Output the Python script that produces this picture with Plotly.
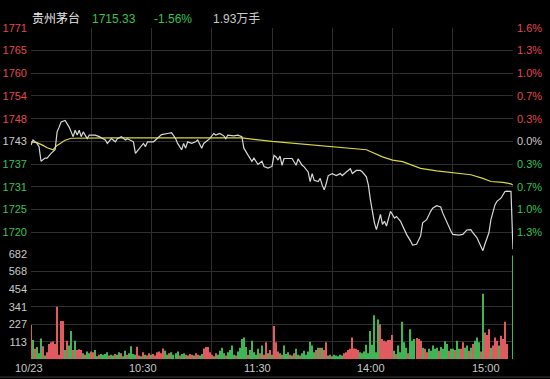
import plotly.graph_objects as go

# ---------------- data ----------------
stock_name = "贵州茅台"
last_price = "1715.33"
change_pct = "-1.56%"
volume_total = "1.93万手"
prev_close = 1742.5
price_step = 5.72          # price per horizontal grid row (~0.33%)

price_minutes = [0, 1, 3, 4, 5, 7, 8, 10, 12, 13, 14, 15, 17, 18, 19, 20, 21, 22, 23, 24,
                 25, 26, 28, 29, 32, 34, 37, 38, 40, 42, 43, 45, 47, 48, 51, 52, 54, 56, 57, 58,
                 61, 63, 65, 68, 70, 72, 73, 75, 76, 77, 78, 80, 82, 83, 85, 86, 89, 91, 92, 94,
                 96, 97, 98, 101, 103, 105, 106, 108, 110, 111, 113, 115, 116, 118, 120, 121, 122, 123, 124, 125,
                 126, 128, 130, 132, 133, 135, 136, 138, 139, 140, 141, 143, 144, 145, 146, 147, 148, 150, 152, 154,
                 155, 157, 159, 160, 162, 164, 165, 167, 168, 169, 170, 171, 172, 173, 174, 175, 176, 177, 178, 179,
                 181, 182, 184, 185, 187, 189, 190, 192, 194, 195, 197, 199, 200, 202, 204, 205, 207, 209, 210, 213,
                 215, 217, 219, 220, 222, 224, 225, 226, 228, 229, 231, 232, 234, 236, 237, 238, 239, 240]
price_values = [1741.6, 1742.85, 1742.0, 1741.2, 1737.5, 1738.3, 1738.3, 1739.5, 1740.4, 1744.9, 1746.1, 1747.4, 1747.8, 1747.0, 1746.1, 1744.9, 1743.7, 1745.3, 1744.1, 1745.3,
                1743.7, 1744.9, 1743.2, 1744.1, 1744.1, 1743.7, 1742.85, 1742.0, 1743.2, 1742.4, 1743.2, 1743.7, 1742.85, 1743.2, 1742.4, 1739.5, 1740.8, 1742.0, 1741.2, 1742.4,
                1742.4, 1743.2, 1744.2, 1744.5, 1744.7, 1743.2, 1742.0, 1740.4, 1742.0, 1740.8, 1742.4, 1742.0, 1742.4, 1742.85, 1740.8, 1742.0, 1743.2, 1744.5, 1744.1, 1744.5,
                1743.9, 1743.2, 1744.1, 1743.9, 1744.1, 1743.7, 1740.8, 1739.1, 1737.5, 1738.3, 1736.7, 1737.5, 1736.2, 1735.8, 1736.2, 1739.0, 1738.6, 1737.8, 1738.8, 1736.5,
                1738.2, 1738.2, 1738.2, 1736.5, 1738.1, 1736.5, 1736.1, 1734.8, 1732.4, 1734.4, 1732.7, 1732.4, 1733.2, 1731.5, 1730.3, 1731.9, 1733.9, 1734.4, 1733.9, 1734.4,
                1733.9, 1734.8, 1735.6, 1734.4, 1735.2, 1735.2, 1734.8, 1733.6, 1731.5, 1727.8, 1724.9, 1722.0, 1720.3, 1722.0, 1724.1, 1721.6, 1722.4, 1721.2, 1723.2, 1724.9,
                1723.2, 1723.6, 1722.4, 1721.2, 1719.1, 1717.4, 1716.4, 1716.6, 1718.7, 1722.0, 1722.8, 1724.9, 1725.7, 1726.3, 1726.0, 1724.5, 1722.0, 1720.0, 1719.1, 1718.9,
                1719.1, 1720.2, 1720.3, 1719.5, 1718.3, 1716.2, 1715.0, 1716.6, 1719.5, 1722.8, 1726.5, 1727.4, 1728.2, 1729.9, 1730.0, 1729.9, 1729.9, 1715.33]

avg_minutes = [0, 3, 6, 8, 11, 13, 17, 20, 40, 80, 105, 120, 136, 152, 167, 175, 180, 185, 194, 202,
               210, 219, 225, 229, 235, 239, 240]
avg_values = [1742.4, 1742.2, 1741.5, 1740.9, 1740.4, 1741.5, 1742.8, 1743.3, 1743.4, 1743.4, 1743.4, 1742.5, 1741.8, 1741.1, 1740.4, 1738.6, 1737.8, 1737.4, 1735.7, 1735.1,
              1734.7, 1734.1, 1733.2, 1732.4, 1732.2, 1731.8, 1731.5]

volumes = [222, 125, 68, 80, 40, 135, 85, 25, 45, 100,
           110, 115, 100, 340, 30, 248, 248, 60, 120, 90,
           184, 60, 120, 60, 65, 60, 40, 30, 50, 40,
           50, 45, 60, 20, 30, 35, 30, 35, 45, 25,
           30, 25, 35, 30, 45, 40, 20, 55, 30, 40,
           85, 35, 30, 82, 25, 20, 45, 30, 25, 40,
           30, 35, 25, 45, 50, 40, 70, 55, 30, 40,
           45, 30, 40, 50, 25, 35, 40, 30, 25, 35,
           30, 25, 40, 30, 25, 35, 70, 80, 80, 45,
           30, 20, 40, 30, 55, 75, 40, 25, 45, 60,
           90, 30, 25, 50, 75, 131, 142, 80, 30, 60,
           120, 45, 30, 68, 40, 89, 30, 110, 40, 60,
           30, 216, 110, 50, 40, 30, 89, 35, 45, 30,
           25, 40, 68, 30, 25, 40, 55, 30, 50, 114,
           89, 45, 60, 75, 75, 75, 60, 110, 25, 30,
           20, 30, 25, 20, 30, 25, 40, 45, 60, 68,
           142, 70, 68, 60, 45, 40, 50, 95, 40, 184,
           95, 286, 45, 258, 227, 131, 120, 115, 125, 125,
           157, 55, 35, 89, 45, 244, 110, 75, 40, 195,
           120, 131, 138, 131, 120, 75, 68, 45, 68, 55,
           89, 68, 75, 55, 80, 68, 117, 100, 55, 68,
           68, 60, 120, 68, 68, 110, 75, 89, 55, 75,
           100, 120, 142, 110, 50, 424, 174, 157, 195, 75,
           89, 142, 120, 89, 153, 131, 244, 100, 0, 0,
           672]
# r = up minute (red), g = down minute (green), one per bar
vol_dirs = "".join([
    "rgrgggrgrr", "rrrrrrrgrg", "grgrrrgrgg", "rrggrggggr", "ggrggrggrg",
    "gggrrgrgrr", "grrrrrrggr", "ggggrggrgr", "rgrrggrrrr", "rgrggggrgg",
    "ggrgggggrg", "ggggrgrrgr", "grrrgrgggr", "grggrggggg", "ggrgrgrrgr",
    "ggggggrrrr", "rrrrgggggg", "ggggrrrrrr", "rgrgggggrg", "ggrrrgrrgg",
    "gggrggggrg", "grggrrggrg", "rgggrgrrrg", "rrrgrrrrgg", "g",
])
left_tick_labels = ["1771", "1765", "1760", "1754", "1748", "1743", "1737", "1731", "1725", "1720"]
right_tick_labels = ["1.6%", "1.3%", "1.0%", "0.7%", "0.3%", "0.0%", "0.3%", "0.7%", "1.0%", "1.3%"]
vol_tick_labels = ["113", "227", "341", "454", "568", "682"]
time_labels = ["10/23", "10:30", "11:30", "14:00", "15:00"]

# ---------------- styling ----------------
W, H = 550, 379
RED = "#e0484f"
GREEN = "#35c257"
GREY = "#c8c8c8"
GRID = "#2e2e2e"
FONT = "Liberation Sans, Arial, sans-serif"

def py(px):
    return (H - px) / H

def px_x(px):
    return px / W

x_dom = [px_x(31), px_x(513)]
price_dom = [py(253), py(22.2)]
vol_dom = [py(359), py(252)]

levels = list(range(5, -5, -1))
tick_vals = [prev_close + k * price_step for k in levels]

def colored(lbl, k):
    c = RED if k > 0 else (GREY if k == 0 else GREEN)
    return f'<span style="color:{c}">{lbl}</span>'

left_text = [colored(l, k) for l, k in zip(left_tick_labels, levels)]
right_text = [colored(l, k) for l, k in zip(right_tick_labels, levels)]
prange = [prev_close - 5 * price_step, prev_close + 5 * price_step]

vol_max = 682.0
vol_vals = [vol_max * (i + 1) / 6 for i in range(6)]

n_vol = min(len(volumes), len(vol_dirs))
bar_colors = ["#e05a60" if vol_dirs[i] == "r" else "#3fb556" for i in range(n_vol)]

fig = go.Figure()
fig.add_trace(go.Scatter(x=avg_minutes, y=avg_values, mode="lines",
                         line=dict(color="#d8d83c", width=1.2), xaxis="x", yaxis="y",
                         hoverinfo="skip", showlegend=False))
fig.add_trace(go.Scatter(x=price_minutes, y=price_values, mode="lines",
                         line=dict(color="#d8d8d8", width=1.2), xaxis="x", yaxis="y",
                         showlegend=False))
fig.add_trace(go.Scatter(x=price_minutes, y=price_values, mode="lines", opacity=0,
                         line=dict(width=0), xaxis="x", yaxis="y2",
                         hoverinfo="skip", showlegend=False))
fig.add_trace(go.Bar(x=list(range(n_vol)), y=volumes[:n_vol], width=0.6,
                     marker=dict(color=bar_colors, line=dict(width=0)),
                     xaxis="x2", yaxis="y3", showlegend=False))

grid_ticks = list(range(0, 241, 30))
common_x = dict(range=[0, 240], tickvals=grid_ticks, showticklabels=False,
                showgrid=True, gridcolor=GRID, gridwidth=1, zeroline=False,
                showline=False, ticks="", domain=x_dom, fixedrange=True)

fig.update_layout(
    width=W, height=H,
    margin=dict(l=0, r=0, t=0, b=0),
    paper_bgcolor="#000000", plot_bgcolor="#000000",
    font=dict(family=FONT, size=11, color=GREY),
    showlegend=False,
    xaxis=dict(anchor="y", **common_x),
    xaxis2=dict(anchor="y3", matches="x", **common_x),
    yaxis=dict(domain=price_dom, range=prange, tickvals=tick_vals, ticktext=left_text,
               showgrid=True, gridcolor=GRID, zeroline=False, ticks="",
               tickfont=dict(size=11, family=FONT), anchor="x", side="left",
               ticklabelstandoff=3, fixedrange=True),
    yaxis2=dict(overlaying="y", range=prange, tickvals=tick_vals, ticktext=right_text,
                showgrid=False, zeroline=False, ticks="", side="right", anchor="x",
                tickfont=dict(size=11, family=FONT), ticklabelstandoff=3, fixedrange=True),
    yaxis3=dict(domain=vol_dom, range=[0, vol_max], tickvals=vol_vals, ticktext=vol_tick_labels,
                showgrid=True, gridcolor=GRID, zeroline=False, ticks="", anchor="x2",
                tickfont=dict(size=11, family=FONT, color=GREY), ticklabelstandoff=3,
                fixedrange=True),
)

# header
hdr_y = py(13)
header = [(stock_name, 30, "#e8e8e8"), (last_price, 90, GREEN),
          (change_pct, 152, GREEN), (volume_total, 211, GREY)]
for txt, xpx, col in header:
    fig.add_annotation(text=txt, x=px_x(xpx), y=hdr_y, xref="paper", yref="paper",
                       xanchor="left", yanchor="middle", showarrow=False,
                       font=dict(size=12, color=col,
                                 family="Liberation Sans, Noto Sans CJK SC, sans-serif"))

# time labels
time_px = [29, 143, 257, 371, 486]
for txt, xpx in zip(time_labels, time_px):
    fig.add_annotation(text=txt, x=px_x(xpx), y=py(368), xref="paper", yref="paper",
                       xanchor="center", yanchor="middle", showarrow=False,
                       font=dict(size=11, color=GREY, family=FONT))

# bottom separator
fig.add_shape(type="line", xref="paper", yref="paper", x0=0, x1=1,
              y0=py(377), y1=py(377), line=dict(color="#3a3a3a", width=1))

fig.write_html("out.html")
